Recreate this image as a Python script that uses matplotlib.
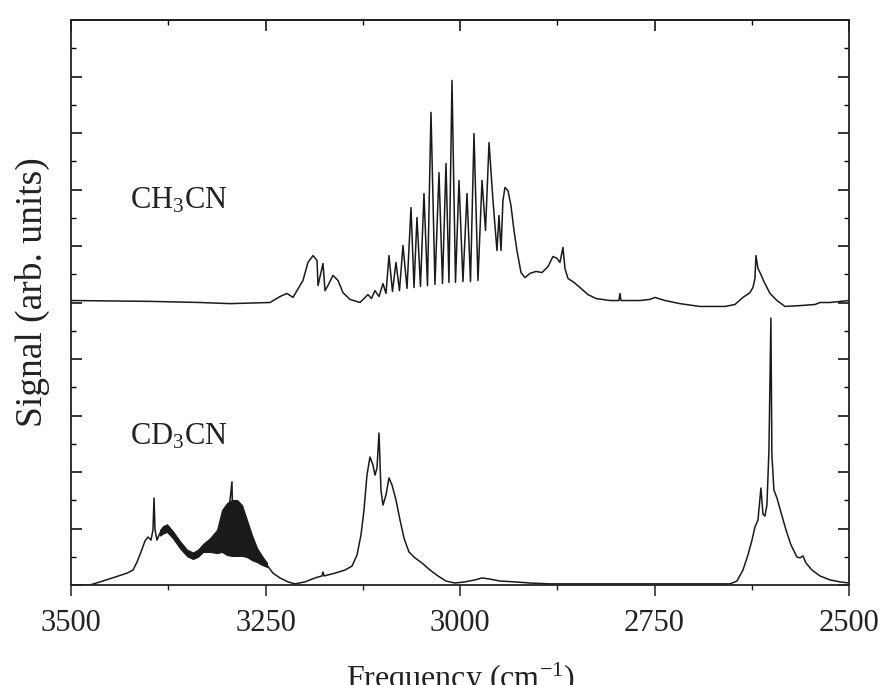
import numpy as np
import matplotlib
matplotlib.use("Agg")
import matplotlib.pyplot as plt
from matplotlib.ticker import MultipleLocator, NullFormatter

plt.rcParams['font.family'] = 'Liberation Serif'
plt.rcParams['mathtext.fontset'] = 'custom'
plt.rcParams['mathtext.rm'] = 'Liberation Serif'
plt.rcParams['mathtext.default'] = 'regular'

# CH3CN spectrum (signal above its own baseline), frequency in cm-1
ch_freq = [3500, 3398.5, 3334.2, 3295.6, 3244.2, 3231.4, 3222.4, 3214.7, 3201.8, 3195.4,
           3188.9, 3183.8, 3182.5, 3176.1, 3173.5, 3169.7, 3163.3, 3156.8, 3150.4, 3141.4,
           3128.6,
           3118.3, 3113.8, 3109.3, 3104.1, 3099.0, 3095.1, 3091.3, 3086.8, 3082.3, 3077.8,
           3073.3, 3068.1, 3063.0, 3059.1, 3055.3, 3050.8, 3046.3, 3041.8, 3037.3, 3032.2,
           3027.0, 3022.5, 3018.0, 3014.2, 3010.3, 3005.8, 3001.3, 2996.2, 2991.0, 2986.5,
           2982.0, 2976.9, 2971.7, 2967.2, 2962.7,
           2957.6, 2952.5, 2949.9, 2947.3, 2944.8, 2942.2, 2938.3, 2934.5, 2930.6, 2926.8,
           2921.6, 2916.5, 2910.1, 2902.3, 2894.6, 2886.9, 2880.5, 2875.4, 2871.5, 2867.7,
           2865.1, 2861.2, 2853.5, 2845.8, 2835.5, 2825.2, 2807.2, 2795.7, 2794.4, 2793.1,
           2768.7, 2755.8, 2749.4, 2736.5, 2717.3, 2691.6, 2659.4, 2646.6, 2636.3, 2627.3,
           2623.5, 2620.9, 2619.6, 2617.0, 2614.4, 2609.3, 2601.6, 2592.6, 2582.3, 2563.0,
           2543.7, 2537.3, 2524.4, 2500]
ch_sig = [0.07, 0.04, 0.00, -0.04, 0.00, 0.21, 0.32, 0.18, 0.78, 1.42,
          1.66, 1.49, 0.60, 1.38, 0.42, 0.60, 0.96, 0.78, 0.35, 0.11,
          0.00,
          0.28, 0.14, 0.42, 0.21, 0.67, 0.32, 1.66, 0.39, 1.42, 0.42,
          2.02, 0.50, 3.36, 0.53, 3.01, 0.57, 3.86, 0.60, 6.73, 0.64,
          4.60, 0.67, 4.92, 0.71, 7.86, 0.71, 4.32, 0.74, 3.86, 0.74,
          5.98, 0.78, 4.32, 2.55, 5.66,
          3.61, 1.84, 3.08, 1.84, 3.61, 4.07, 3.96, 3.43, 2.55, 1.84,
          1.06, 0.88, 1.03, 1.10, 1.06, 1.27, 1.63, 1.56, 1.42, 1.95,
          1.20, 0.85, 0.71, 0.53, 0.28, 0.14, 0.07, 0.07, 0.32, 0.07,
          0.07, 0.11, 0.18, 0.07, -0.04, -0.14, -0.14, -0.07, 0.18, 0.35,
          0.53, 0.85, 1.66, 1.20, 1.06, 0.74, 0.32, 0.07, -0.14, -0.11,
          -0.07, 0.00, 0.00, 0.07]

# CD3CN spectrum
cd_freq = [3500, 3475.6, 3462.7, 3443.4, 3428.0, 3420.3, 3415.2, 3410.0, 3404.9, 3401.0,
           3397.2, 3394.6, 3393.3, 3392.0, 3389.5, 3385.6, 3381.8, 3376.6, 3368.9, 3359.9,
           3350.9, 3343.2, 3336.8, 3330.3, 3321.3, 3312.3, 3305.9, 3299.5, 3293.1, 3292.0,
           3286.6, 3280.2, 3273.8, 3267.4, 3260.9, 3254.5, 3248.1, 3240.4, 3231.4, 3221.1,
           3212.1, 3199.2, 3186.4, 3177.4, 3176.1, 3174.8, 3160.7, 3147.8, 3138.8, 3132.4,
           3127.3, 3123.4, 3119.6, 3115.7, 3111.9, 3109.3, 3106.7, 3104.1, 3101.6, 3099.0,
           3095.1, 3091.3, 3087.4, 3082.3, 3077.1, 3072.0, 3065.6, 3057.9, 3048.9, 3038.6,
           3028.3, 3018.0, 3006.5, 2993.6, 2980.7, 2971.7, 2961.5, 2948.6, 2929.3, 2910.1,
           2884.3, 2820.1, 2755.8, 2691.6, 2653.0, 2644.0, 2636.3, 2629.9, 2624.7, 2620.9,
           2617.0, 2613.2, 2610.6, 2608.1, 2605.5, 2602.9, 2600.4, 2599.1, 2596.5, 2592.6,
           2587.5, 2581.0, 2574.6, 2566.9, 2563.0, 2559.2, 2555.3, 2547.6, 2537.3, 2524.4,
           2511.6, 2500]
cd_sig = [0, 0, 0.11, 0.28, 0.42, 0.53, 0.81, 1.17, 1.56, 1.70,
          1.59, 1.95, 3.08, 1.95, 1.59, 1.84, 1.95, 2.02, 1.77, 1.42,
          1.13, 1.03, 1.13, 1.35, 1.45, 1.55, 1.85, 2.00, 3.65, 2.00,
          2.00, 1.90, 1.65, 1.30, 1.05, 0.87, 0.70, 0.42, 0.25, 0.11,
          0.04, 0.11, 0.25, 0.32, 0.46, 0.32, 0.42, 0.53, 0.67, 1.06,
          1.77, 2.65, 3.89, 4.53, 4.25, 3.89, 4.14, 5.38, 3.36, 2.83,
          3.19, 3.79, 3.54, 3.01, 2.30, 1.66, 1.17, 0.96, 0.78, 0.53,
          0.32, 0.14, 0.07, 0.11, 0.18, 0.25, 0.21, 0.14, 0.11, 0.07,
          0.04, 0.04, 0.04, 0.04, 0.04, 0.14, 0.53, 1.06, 1.59, 2.05,
          2.30, 3.43, 2.51, 2.44, 2.83, 4.78, 9.45, 4.60, 3.36, 3.08,
          2.58, 1.95, 1.42, 0.99, 0.96, 1.03, 0.78, 0.53, 0.32, 0.18,
          0.11, 0.07]

# unresolved dense lines in CD3CN (drawn as a filled band)
band_freq = [3385.6, 3381.8, 3376.6, 3368.9, 3359.9, 3350.9, 3343.2, 3336.8, 3330.3, 3321.3,
             3312.3, 3305.9, 3299.5, 3293.1, 3286.6, 3280.2, 3273.8, 3267.4, 3260.9, 3254.5,
             3248.1]
band_hi = [1.95, 2.08, 2.15, 1.90, 1.55, 1.25, 1.15, 1.25, 1.45, 1.66,
           1.95, 2.65, 2.90, 3.01, 3.01, 2.83, 2.30, 1.77, 1.31, 1.03, 0.78]
band_lo = [1.75, 1.82, 1.88, 1.65, 1.30, 1.02, 0.92, 1.00, 1.17, 1.17,
           1.13, 1.17, 1.06, 1.03, 1.03, 1.03, 0.99, 0.88, 0.81, 0.71, 0.64]

ch_offset = 10

fig = plt.figure(figsize=(8.94, 6.85), dpi=100)
ax = fig.add_axes([71/894, 1 - 585/685, 778/894, 565/685])

lc = '#1a1a1a'
ax.plot(ch_freq, np.array(ch_sig) + ch_offset, color=lc, lw=1.1)
ax.plot(cd_freq, cd_sig, color=lc, lw=1.1)
ax.fill_between(band_freq, band_lo, band_hi, color=lc, lw=0.8)

ax.text(3424, 13.6, 'CH$_3$CN', fontsize=22, va='center', ha='left', color='#222')
ax.text(3424, 5.24, 'CD$_3$CN', fontsize=22, va='center', ha='left', color='#222')

ax.set_xlim(3500, 2500)
ax.set_ylim(0, 20)
ax.xaxis.set_major_locator(MultipleLocator(250))
ax.xaxis.set_minor_locator(MultipleLocator(125))
ax.yaxis.set_major_locator(MultipleLocator(2))
ax.yaxis.set_minor_locator(MultipleLocator(1))
ax.yaxis.set_major_formatter(NullFormatter())

ax.tick_params(axis='x', which='both', direction='out', top=False, labelsize=22,
               colors='#222', pad=9)
ax.tick_params(axis='x', which='major', length=8, width=1.1)
ax.tick_params(axis='x', which='minor', length=3.5, width=1.0)
ax.tick_params(axis='y', which='both', direction='in', left=True, right=True,
               labelleft=False)
ax.tick_params(axis='y', which='major', length=8, width=1.1)
ax.tick_params(axis='y', which='minor', length=3.5, width=1.0)

top = ax.secondary_xaxis('top')
top.xaxis.set_major_locator(MultipleLocator(250))
top.xaxis.set_minor_locator(MultipleLocator(125))
top.tick_params(axis='x', which='both', direction='in', labeltop=False)
top.tick_params(axis='x', which='major', length=8, width=1.1)
top.tick_params(axis='x', which='minor', length=3.5, width=1.0)
top.spines['top'].set_linewidth(1.3)

for s in ax.spines.values():
    s.set_linewidth(1.3)
    s.set_color('#222')

ax.set_xlabel('Frequency (cm$^{-1}$)', fontsize=23, color='#222')
ax.xaxis.set_label_coords(0.5, -0.1345)
ax.set_ylabel('Signal (arb. units)', fontsize=27, color='#222')
ax.yaxis.set_label_coords(-0.027, 0.519)

fig.savefig('out.png', dpi=100)
